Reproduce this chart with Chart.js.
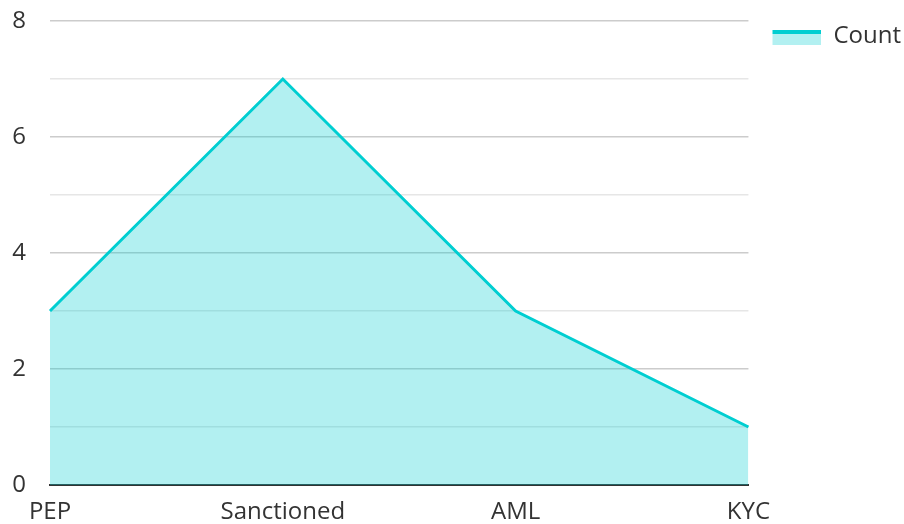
<!DOCTYPE html>
<html>
<head>
<meta charset="utf-8">
<script src="https://cdn.jsdelivr.net/npm/chart.js@4"></script>
<style>
  html, body { margin: 0; padding: 0; background: #fff; }
  #wrap { width: 904px; height: 524px; }
</style>
</head>
<body>
<div id="wrap"><canvas id="chart"></canvas></div>
<script>
const categories = ["PEP", "Sanctioned", "AML", "KYC"];
const counts = [3, 7, 3, 1];
const seriesLabel = "Count";

const LINE = "rgb(0, 206, 209)";
const FILL = "rgba(0, 206, 209, 0.3)";

// legend glyph: light fill with a thick line on top,
// with some empty room on the left
function legendGlyph() {
  const c = document.createElement("canvas");
  c.width = 70;
  c.height = 30;
  const g = c.getContext("2d");
  g.fillStyle = FILL;
  g.fillRect(21, 9, 49, 15);
  g.fillStyle = LINE;
  g.fillRect(21, 9, 49, 4);
  return c;
}

Chart.defaults.font.family = "'Open Sans', sans-serif";
Chart.defaults.font.size = 24;
Chart.defaults.color = "#333";

new Chart(document.getElementById("chart").getContext("2d"), {
  type: "line",
  data: {
    labels: categories,
    datasets: [
      {
        label: seriesLabel,
        data: counts,
        borderColor: LINE,
        backgroundColor: FILL,
        borderWidth: 3,
        fill: "origin",
        pointRadius: 0,
        tension: 0,
      },
    ],
  },
  options: {
    responsive: true,
    maintainAspectRatio: false,
    animation: false,
    layout: { padding: { top: 21, right: -7 } },
    plugins: {
      tooltip: { enabled: false },
      legend: {
        position: "right",
        align: "start",
        labels: {
          usePointStyle: true,
          pointStyle: legendGlyph(),
          pointStyleWidth: 70,
          boxHeight: 24,
          padding: 3,
          font: { size: 24 },
        },
      },
    },
    scales: {
      x: {
        offset: false,
        grid: { display: false },
        border: { color: "#333", width: 2 },
        ticks: { padding: 5, maxRotation: 0 },
        afterFit: (s) => {
          s.height = 39;
        },
      },
      y: {
        min: 0,
        max: 8,
        border: { display: false },
        grid: {
          drawTicks: false,
          color: (c) => (c.tick.value % 2 === 0 ? "#cccccc" : "#e6e6e6"),
          lineWidth: 1.5,
        },
        ticks: {
          stepSize: 1,
          padding: 24,
          callback: (v) => (v % 2 === 0 ? v : ""),
        },
        afterFit: (s) => {
          s.width = 50;
          s.paddingTop = 5;
          s.paddingBottom = 0;
        },
      },
    },
  },
});
</script>
</body>
</html>
